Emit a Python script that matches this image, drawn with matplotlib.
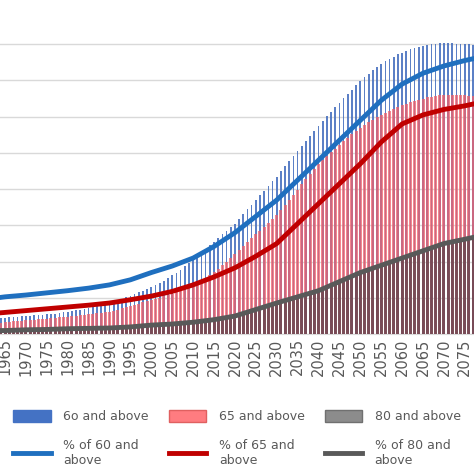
import numpy as np
import matplotlib
matplotlib.use("Agg")
import matplotlib.pyplot as plt
from matplotlib.patches import Patch
from matplotlib.lines import Line2D

# annual bar data (values in grid units, axis is cropped in the reference)
bar_years = np.arange(1964, 2078)
bars_60 = [0.44,0.45,0.46,0.47,0.48,0.49,0.50,0.51,0.52,0.53,
           0.54,0.55,0.56,0.57,0.58,0.60,0.62,0.64,0.66,0.68,
           0.70,0.72,0.75,0.78,0.81,0.84,0.87,0.90,0.94,0.98,
           1.02,1.06,1.10,1.15,1.20,1.25,1.30,1.36,1.42,1.48,
           1.55,1.62,1.70,1.78,1.87,1.96,2.06,2.16,2.27,2.36,
           2.45,2.55,2.65,2.75,2.85,2.95,3.05,3.18,3.31,3.44,
           3.57,3.70,3.83,3.96,4.09,4.22,4.35,4.49,4.63,4.77,
           4.91,5.05,5.19,5.33,5.47,5.61,5.75,5.88,6.01,6.14,
           6.27,6.39,6.51,6.63,6.75,6.87,6.98,7.09,7.19,7.28,
           7.37,7.45,7.53,7.60,7.66,7.72,7.77,7.82,7.86,7.90,
           7.93,7.96,7.98,8.00,8.01,8.02,8.02,8.02,8.02,8.01,
           8.01,8.00,8.00,7.99]
bars_65 = [0.32,0.33,0.34,0.35,0.36,0.37,0.38,0.39,0.40,0.41,
           0.42,0.43,0.44,0.45,0.46,0.47,0.48,0.49,0.50,0.52,
           0.53,0.55,0.56,0.58,0.59,0.60,0.62,0.65,0.68,0.71,
           0.75,0.78,0.81,0.84,0.88,0.91,0.95,0.98,1.01,1.05,
           1.08,1.12,1.15,1.19,1.23,1.27,1.31,1.38,1.46,1.54,
           1.63,1.72,1.81,1.90,2.00,2.10,2.20,2.31,2.42,2.53,
           2.64,2.75,2.86,2.97,3.08,3.19,3.30,3.43,3.57,3.71,
           3.85,3.99,4.13,4.27,4.41,4.55,4.69,4.80,4.91,5.02,
           5.12,5.22,5.32,5.42,5.52,5.61,5.70,5.78,5.85,5.92,
           5.98,6.04,6.10,6.16,6.21,6.26,6.31,6.36,6.40,6.44,
           6.47,6.50,6.53,6.55,6.57,6.59,6.60,6.61,6.61,6.61,
           6.60,6.59,6.58,6.57]
bars_80 = [0.09,0.09,0.10,0.10,0.10,0.11,0.11,0.11,0.12,0.12,
           0.12,0.13,0.13,0.13,0.14,0.14,0.15,0.15,0.15,0.16,
           0.16,0.17,0.17,0.18,0.18,0.19,0.19,0.20,0.21,0.21,
           0.22,0.23,0.23,0.24,0.25,0.26,0.26,0.27,0.28,0.29,
           0.30,0.31,0.32,0.33,0.34,0.35,0.36,0.37,0.39,0.40,
           0.42,0.44,0.46,0.48,0.50,0.52,0.54,0.57,0.60,0.63,
           0.66,0.69,0.72,0.75,0.78,0.81,0.84,0.87,0.90,0.93,
           0.96,1.00,1.04,1.08,1.12,1.16,1.20,1.25,1.30,1.35,
           1.40,1.45,1.50,1.55,1.60,1.65,1.70,1.74,1.78,1.82,
           1.86,1.90,1.94,1.98,2.02,2.06,2.10,2.14,2.18,2.22,
           2.26,2.30,2.34,2.38,2.42,2.46,2.49,2.52,2.55,2.58,
           2.60,2.62,2.64,2.66]

# percentage lines, 5-year points
line_years = [1963,1965,1970,1975,1980,1985,1990,1995,2000,2005,2010,2015,2020,
              2025,2030,2035,2040,2045,2050,2055,2060,2065,2070,2075,2077]
pct_60 = [1.0,1.03,1.08,1.14,1.2,1.27,1.36,1.5,1.7,1.88,2.1,2.42,2.8,
          3.25,3.7,4.25,4.8,5.35,5.9,6.45,6.9,7.2,7.4,7.55,7.6]
pct_65 = [0.58,0.6,0.65,0.7,0.75,0.8,0.86,0.95,1.05,1.18,1.36,1.58,1.83,
          2.15,2.5,3.05,3.6,4.15,4.7,5.3,5.8,6.05,6.2,6.3,6.35]
pct_80 = [0.1,0.1,0.12,0.13,0.15,0.16,0.17,0.2,0.25,0.28,0.33,0.4,0.5,
          0.68,0.86,1.03,1.2,1.45,1.7,1.9,2.1,2.3,2.5,2.62,2.67]

tick_years = np.arange(1965, 2080, 5)

txt = "#595959"
fig = plt.figure(figsize=(4.74, 4.74), dpi=100)
ax = fig.add_axes([0, 0.295, 1, 0.627])

ax.bar(bar_years, bars_60, width=0.4, color="#4a72c0", alpha=0.9, zorder=2)
ax.bar(bar_years, bars_65, width=0.72, color="#f0606a", alpha=0.75, zorder=3)
ax.bar(bar_years, bars_80, width=0.72, color="#6a4650", alpha=0.85, zorder=4)

ax.plot(line_years, pct_60, color="#1f6fbf", lw=3.5, zorder=5)
ax.plot(line_years, pct_65, color="#c00000", lw=3.5, zorder=5)
ax.plot(line_years, pct_80, color="#595959", lw=3.5, zorder=5)

ax.set_xlim(1963.8, 2077.2)
ax.set_ylim(0, 8.2)
ax.set_yticks(np.arange(0, 9, 1))
ax.yaxis.grid(True, color="#d9d9d9", lw=1, zorder=0)
ax.set_axisbelow(True)
ax.tick_params(axis="y", left=False, labelleft=False)
ax.set_xticks(tick_years)
ax.set_xticklabels([str(y) for y in tick_years], rotation=90, fontsize=10.5, color=txt)
ax.tick_params(axis="x", length=0, pad=3)
for s in ax.spines.values():
    s.set_visible(False)
ax.spines["bottom"].set_visible(True)
ax.spines["bottom"].set_color("#d9d9d9")

handles = [Patch(color="#4472c4"), Line2D([], [], color="#1f6fbf", lw=3.5),
           Patch(color="#ff7c80", ec="#e06060"), Line2D([], [], color="#c00000", lw=3.5),
           Patch(color="#8c8c8c", ec="#707070"), Line2D([], [], color="#595959", lw=3.5)]
labels = ["6o and above", "% of 60 and\nabove", "65 and above", "% of 65 and\nabove",
          "80 and above", "% of 80 and\nabove"]
fig.legend(handles, labels, ncol=3, loc="lower center", bbox_to_anchor=(0.5, -0.01),
           frameon=False, fontsize=9, labelcolor=txt, handlelength=3.0,
           handleheight=1.1, columnspacing=1.6, labelspacing=1.3, handletextpad=1.0)

fig.savefig("out.png", dpi=100)
